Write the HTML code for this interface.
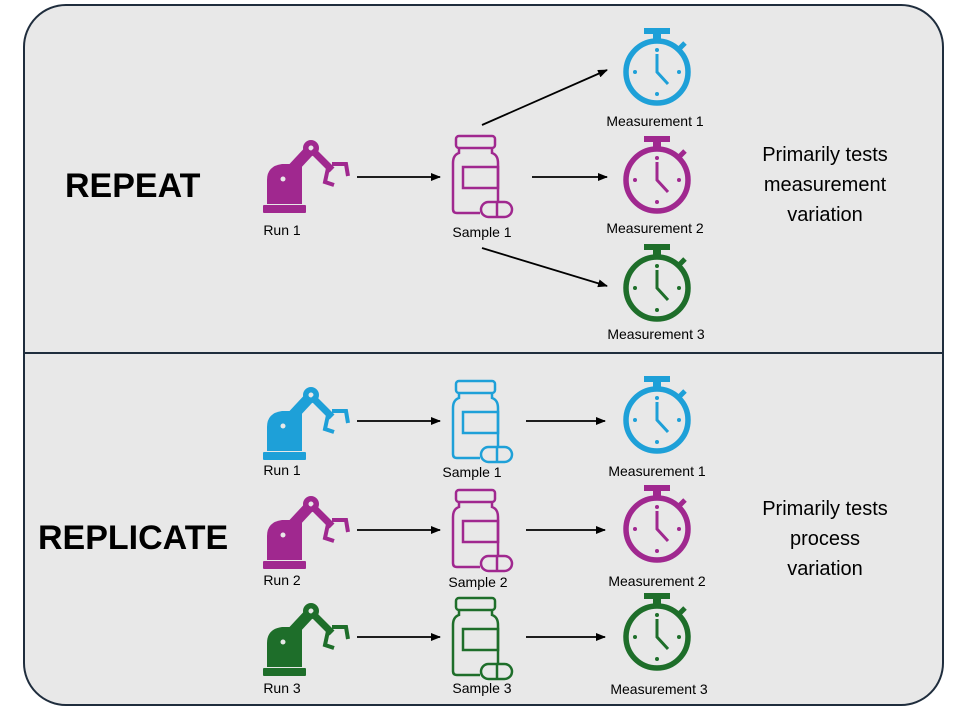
<!DOCTYPE html>
<html><head><meta charset="utf-8"><style>
body{margin:0;width:965px;height:716px;background:#fff;overflow:hidden}
svg{display:block}
text{font-family:"Liberation Sans",sans-serif}
</style></head><body>
<svg width="965" height="716" viewBox="0 0 965 716">
<defs>
<marker id="ah" markerWidth="10" markerHeight="8" refX="9" refY="4" orient="auto" markerUnits="userSpaceOnUse"><path d="M0,0 L10,4 L0,8 Z" fill="#000"/></marker>
<g id="robot">
<rect x="1" y="67" width="43" height="8" rx="1"/>
<path d="M5,66 L5,42 Q5,28 20,26 L40,26 L40,66 Z"/>
<line x1="22" y1="40" x2="49" y2="11" stroke-width="11" stroke="currentColor"/>
<circle cx="49" cy="10" r="8"/>
<circle cx="49" cy="10" r="2.5" fill="#e8e8e8"/>
<circle cx="21" cy="41" r="2.5" fill="#e8e8e8"/>
<line x1="50" y1="12" x2="70" y2="32" stroke-width="7" stroke="currentColor"/>
<path d="M66,30 L63,44 L72,47" fill="none" stroke="currentColor" stroke-width="4"/>
<path d="M70,26 L84,26 L86,38" fill="none" stroke="currentColor" stroke-width="4"/>
</g>
<g id="bottle" fill="none" stroke="currentColor" stroke-width="2.5">
<rect x="9" y="1" width="39" height="12" rx="3"/>
<path d="M12,13 L12,18 Q6,20 6,28 L6,74 Q6,78 10,78 L33,78"/>
<path d="M45,13 L45,18 Q51,20 51,28 L51,67"/>
<rect x="16" y="32" width="35" height="21"/>
<rect x="34" y="67" width="31" height="15" rx="7.5"/>
<line x1="50" y1="67" x2="50" y2="82"/>
</g>
<g id="watch">
<circle cx="0" cy="0" r="31" fill="none" stroke="currentColor" stroke-width="5.5"/>
<rect x="-4" y="-40" width="8" height="8"/>
<rect x="-13" y="-44" width="26" height="6"/>
<line x1="21" y1="-22" x2="28" y2="-29" stroke="currentColor" stroke-width="5"/>
<polyline points="0,-18 0,0 11,12" fill="none" stroke="currentColor" stroke-width="3"/>
<circle cx="0" cy="-22" r="2"/><circle cx="22" cy="0" r="2"/><circle cx="0" cy="22" r="2"/><circle cx="-22" cy="0" r="2"/>
</g>
</defs>
<rect x="24" y="5" width="919" height="700" rx="42" fill="#e8e8e8" stroke="#1f2d3d" stroke-width="2"/>
<line x1="24" y1="353" x2="943" y2="353" stroke="#1f2d3d" stroke-width="2"/>

<g font-size="14" fill="#000" text-anchor="middle">
<!-- TOP -->
<text x="65" y="197" font-size="34" font-weight="bold" text-anchor="start">REPEAT</text>
<use href="#robot" x="262" y="138" fill="#a0288f" color="#a0288f"/>
<text x="282" y="235">Run 1</text>
<line x1="357" y1="177" x2="440" y2="177" stroke="#000" stroke-width="1.8" marker-end="url(#ah)"/>
<use href="#bottle" x="447" y="135" color="#a0288f"/>
<text x="482" y="237">Sample 1</text>
<line x1="532" y1="177" x2="607" y2="177" stroke="#000" stroke-width="1.8" marker-end="url(#ah)"/>
<line x1="482" y1="125" x2="607" y2="70" stroke="#000" stroke-width="1.8" marker-end="url(#ah)"/>
<line x1="482" y1="248" x2="607" y2="286" stroke="#000" stroke-width="1.8" marker-end="url(#ah)"/>
<use href="#watch" x="657" y="72" fill="#1ea0d8" color="#1ea0d8"/>
<text x="655" y="126">Measurement 1</text>
<use href="#watch" x="657" y="180" fill="#a0288f" color="#a0288f"/>
<text x="655" y="233">Measurement 2</text>
<use href="#watch" x="657" y="288" fill="#1e6e2a" color="#1e6e2a"/>
<text x="656" y="339">Measurement 3</text>
<text x="825" y="161" font-size="20">Primarily tests</text>
<text x="825" y="191" font-size="20">measurement</text>
<text x="825" y="221" font-size="20">variation</text>

<!-- BOTTOM -->
<text x="38" y="549" font-size="34" font-weight="bold" text-anchor="start">REPLICATE</text>
<use href="#robot" x="262" y="385" fill="#1ea0d8" color="#1ea0d8"/>
<text x="282" y="475">Run 1</text>
<line x1="357" y1="421" x2="440" y2="421" stroke="#000" stroke-width="1.8" marker-end="url(#ah)"/>
<use href="#bottle" x="447" y="380" color="#1ea0d8"/>
<text x="472" y="477">Sample 1</text>
<line x1="526" y1="421" x2="605" y2="421" stroke="#000" stroke-width="1.8" marker-end="url(#ah)"/>
<use href="#watch" x="657" y="420" fill="#1ea0d8" color="#1ea0d8"/>
<text x="657" y="476">Measurement 1</text>

<use href="#robot" x="262" y="494" fill="#a0288f" color="#a0288f"/>
<text x="282" y="585">Run 2</text>
<line x1="357" y1="530" x2="440" y2="530" stroke="#000" stroke-width="1.8" marker-end="url(#ah)"/>
<use href="#bottle" x="447" y="489" color="#a0288f"/>
<text x="478" y="587">Sample 2</text>
<line x1="526" y1="530" x2="605" y2="530" stroke="#000" stroke-width="1.8" marker-end="url(#ah)"/>
<use href="#watch" x="657" y="529" fill="#a0288f" color="#a0288f"/>
<text x="657" y="586">Measurement 2</text>

<use href="#robot" x="262" y="601" fill="#1e6e2a" color="#1e6e2a"/>
<text x="282" y="693">Run 3</text>
<line x1="357" y1="637" x2="440" y2="637" stroke="#000" stroke-width="1.8" marker-end="url(#ah)"/>
<use href="#bottle" x="447" y="597" color="#1e6e2a"/>
<text x="482" y="693">Sample 3</text>
<line x1="526" y1="637" x2="605" y2="637" stroke="#000" stroke-width="1.8" marker-end="url(#ah)"/>
<use href="#watch" x="657" y="637" fill="#1e6e2a" color="#1e6e2a"/>
<text x="659" y="694">Measurement 3</text>

<text x="825" y="515" font-size="20">Primarily tests</text>
<text x="825" y="545" font-size="20">process</text>
<text x="825" y="575" font-size="20">variation</text>
</g>
</svg>
</body></html>
